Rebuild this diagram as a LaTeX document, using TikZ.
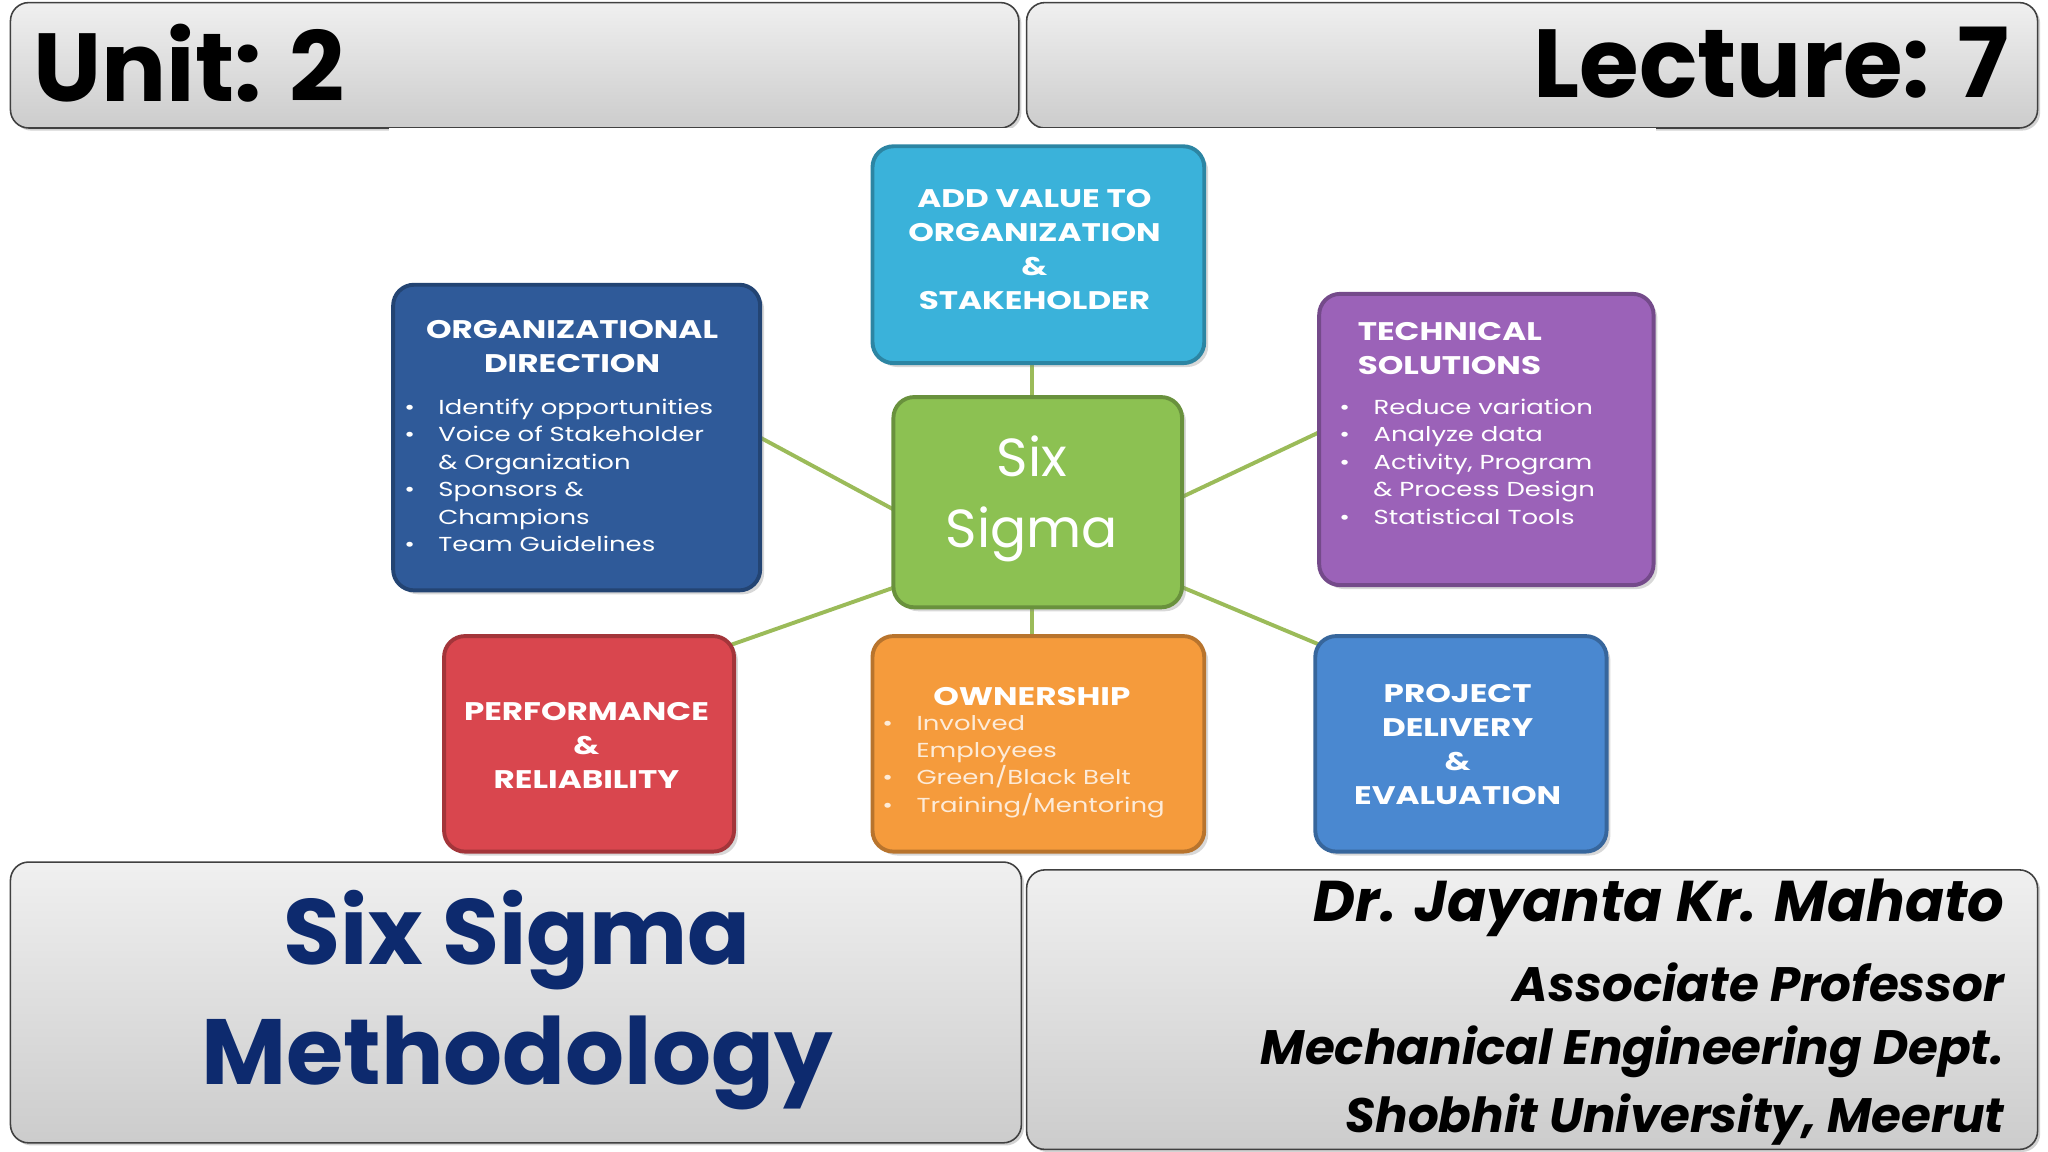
\documentclass[tikz,border=0pt]{standalone}
\usepackage{fontspec}
\setmainfont{Poppins}
\newfontfamily\wide[FakeStretch=1.28]{Poppins}
\usetikzlibrary{shadows}
\definecolor{navy}{HTML}{0D2A6E}
\definecolor{lnk}{HTML}{9BBB59}
\definecolor{cgreen}{HTML}{8CC152}
\definecolor{ccyan}{HTML}{3AB2DA}
\definecolor{cdblue}{HTML}{2F5A99}
\definecolor{cpurple}{HTML}{9B62B8}
\definecolor{cred}{HTML}{D9464E}
\definecolor{corange}{HTML}{F59B3C}
\definecolor{cblue}{HTML}{4A88D0}
\begin{document}
\begin{tikzpicture}[x=1pt,y=-1pt,
 panel/.style={draw=black!75,line width=1.2pt,rounded corners=14pt,top color=black!6,bottom color=black!20,drop shadow={opacity=0.35,shadow xshift=2pt,shadow yshift=-2pt}},
 blk/.style={draw=#1!75!black,line width=3pt,fill=#1,rounded corners=16pt,drop shadow={opacity=0.3,shadow xshift=3pt,shadow yshift=-3pt}},
 ttl/.style={text=white,font=\wide\bfseries\fontsize{19.5}{26}\selectfont,align=center},
 itm/.style={text=white,font=\wide\fontsize{15.5}{21}\selectfont,align=left,anchor=north west},
 link/.style={draw=lnk,line width=3pt}]
\useasboundingbox (0,0) rectangle (1568,882);
\fill[white] (0,0) rectangle (1568,882);
% panels
\path[panel] (8,2) rectangle (780,98);
\path[panel] (786,2) rectangle (1560,98);
\path[panel] (8,660) rectangle (782,875);
\path[panel] (786,666) rectangle (1560,880);
\node[anchor=west,font=\bfseries\fontsize{74}{80}\selectfont] (unit) at (22,48) {Unit: 2};
\node[anchor=east,font=\bfseries\fontsize{74}{80}\selectfont] (lec) at (1542,48) {Lecture: 7};
\fill[white] (298,98) rectangle (1268,658);
% connectors
\draw[link] (790,278) -- (790,305);
\draw[link] (790,465) -- (790,488);
\draw[link] (582,335) -- (684,390);
\draw[link] (906,380) -- (1012,330);
\draw[link] (556,495) -- (684,450);
\draw[link] (906,450) -- (1016,496);
% blocks
\path[blk=cgreen] (684,304) rectangle (905,465);
\node[text=white,font=\fontsize{41}{54}\selectfont,align=center] (six) at (790,382) {Six\\Sigma};
\path[blk=ccyan] (668,112) rectangle (922,278);
\node[ttl] (add) at (792,191) {ADD VALUE TO\\ORGANIZATION\\\&\\STAKEHOLDER};
\path[blk=cdblue] (301,218) rectangle (582,452);
\node[ttl] (org) at (438,265) {ORGANIZATIONAL\\DIRECTION};
\node[itm] (orgl) at (306,302) {•\hspace{18pt}Identify opportunities\\•\hspace{18pt}Voice of Stakeholder\\\hspace{26pt}\& Organization\\•\hspace{18pt}Sponsors \&\\\hspace{26pt}Champions\\•\hspace{18pt}Team Guidelines};
\path[blk=cpurple] (1010,225) rectangle (1266,448);
\node[ttl,align=left,anchor=west] (tech) at (1036,267) {TECHNICAL\\SOLUTIONS};
\node[itm] (techl) at (1022,302) {•\hspace{18pt}Reduce variation\\•\hspace{18pt}Analyze data\\•\hspace{18pt}Activity, Program\\\hspace{26pt}\& Process Design\\•\hspace{18pt}Statistical Tools};
\path[blk=cred] (340,487) rectangle (562,652);
\node[ttl] (perf) at (449,571) {PERFORMANCE\\\&\\RELIABILITY};
\path[blk=corange] (668,487) rectangle (922,652);
\node[ttl] (own) at (790,533) {OWNERSHIP};
\node[itm,text=white!80!corange] (ownl) at (672,544) {•\hspace{18pt}Involved\\\hspace{26pt}Employees\\•\hspace{18pt}Green/Black Belt\\•\hspace{18pt}Training/Mentoring};
\path[blk=cblue] (1007,487) rectangle (1230,652);
\node[ttl] (proj) at (1116,570) {PROJECT\\DELIVERY\\\&\\EVALUATION};
% bottom texts
\node[text=navy,font=\bfseries\fontsize{71}{92}\selectfont,align=center] (ss) at (396,766) {Six Sigma\\Methodology};
\node[anchor=east,font=\bfseries\itshape\fontsize{44}{46}\selectfont] (dr) at (1538,695) {Dr. Jayanta Kr. Mahato};
\node[anchor=east,font=\bfseries\itshape\fontsize{37}{40}\selectfont] (ap) at (1538,752) {Associate Professor};
\node[anchor=east,font=\bfseries\itshape\fontsize{37}{40}\selectfont] (me) at (1538,805) {Mechanical Engineering Dept.};
\node[anchor=east,font=\bfseries\itshape\fontsize{37}{40}\selectfont] (su) at (1538,857) {Shobhit University, Meerut};
\end{tikzpicture}
\end{document}
